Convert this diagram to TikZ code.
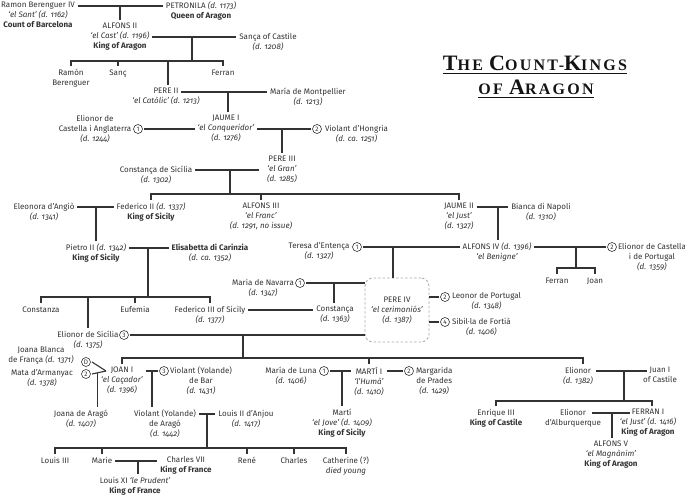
\documentclass[tikz,border=0pt]{standalone}
\usepackage{fontspec}
\setmainfont{Fira Sans}[Numbers=OldStyle]
\newfontfamily\cfont{Fira Sans}
\newfontfamily\ttlfont{Liberation Serif}[LetterSpace=14]
\usetikzlibrary{calc}
\definecolor{tx}{HTML}{333333}
\definecolor{lc}{HTML}{333333}
\definecolor{dashc}{HTML}{AAAAAA}
\newcommand\tA[1]{{\fontsize{22}{24}\selectfont #1}}
\newcommand\tB[1]{{\fontsize{16}{24}\selectfont #1}}
\begin{document}
\begin{tikzpicture}[x=1pt,y=-1pt,
  pn/.style={anchor=north,yshift=7.2pt,align=center,inner sep=0pt,outer sep=3pt,text=tx,
    font=\fontsize{8}{10}\selectfont,execute at begin node=\strut},
  cn/.style={circle,draw=lc,line width=0.6pt,inner sep=0pt,minimum size=9pt,outer sep=1.5pt,
    text=tx,font=\cfont\fontsize{6.5}{7}\selectfont},
  lk/.style={draw=lc,line width=1.1pt},
  ttl/.style={anchor=base,inner sep=0pt,text=black!92,font=\ttlfont\bfseries}]
\path[fill=white] (0,0) rectangle (685,497);
\useasboundingbox (0,0) rectangle (685,497);

% title
\node[ttl] (t1) at (535,71) {\tA{T}\tB{HE }\tA{C}\tB{OUNT-}\tA{K}\tB{INGS}};
\node[ttl] (t2) at (536,95) {\tB{OF }\tA{A}\tB{RAGON}};
\draw[line width=1pt,black!92] ([yshift=-3pt]t1.base west) -- ([yshift=-3pt]t1.base east);
\draw[line width=1pt,black!92] ([yshift=-3pt]t2.base west) -- ([yshift=-3pt]t2.base east);

% generation: Ramon Berenguer IV & Petronila
\node[pn] (ramon) at (38,6) {Ramon Berenguer IV\\\textit{‘el Sant’ (d. 1162)}\\\textbf{Count of Barcelona}};
\node[pn] (petro) at (201,6) {PETRONILA \textit{(d. 1173)}\\\textbf{Queen of Aragon}};
\coordinate (m1) at (120,6);
\draw[lk] (ramon.east |- m1) -- (petro.west |- m1);
\node[pn] (alf2) at (120,27) {ALFONS II\\\textit{‘el Cast’ (d. 1196)}\\\textbf{King of Aragon}};
\draw[lk] (m1) -- (alf2.north);
\node[pn] (sanca) at (268,37) {Sança of Castile\\\textit{(d. 1208)}};
\coordinate (m2) at (192,37);
\draw[lk] (alf2.east |- m2) -- (sanca.west |- m2);
\coordinate (b2) at (192,61);
\draw[lk] (m2) -- (b2);
\node[pn] (ramber) at (71,73) {Ramón\\Berenguer};
\node[pn] (sanc) at (118,73) {Sanç};
\node[pn] (ferran1) at (223,73) {Ferran};
\node[pn] (pere2) at (166,92) {PERE II\\\textit{‘el Catòlic’ (d. 1213)}};
\draw[lk] (ramber.north) -- (ramber.north |- b2) -- (ferran1.north |- b2) -- (ferran1.north);
\draw[lk] (sanc.north) -- (sanc.north |- b2);
\coordinate (t2b) at (168,61);
\draw[lk] (t2b) -- (t2b |- pere2.north);

% Pere II & Maria de Montpellier
\node[pn] (maria) at (308,92) {María de Montpellier\\\textit{(d. 1213)}};
\coordinate (m3) at (228,92);
\coordinate (p2r) at (181,92);
\draw[lk] (p2r) -- (maria.west |- m3);
\node[pn] (jaume1) at (226,119) {JAUME I\\\textit{‘el Conqueridor’}\\\textit{(d. 1276)}};
\draw[lk] (m3) -- (m3 |- jaume1.north);
\node[pn] (elionor1) at (95,119) {Elionor de\\Castella i Anglaterra\\\textit{(d. 1244)}};
\node[cn] (c1) at (138,129) {1};
\draw[lk] (c1.east) -- (jaume1.west |- c1);
\node[cn] (c2) at (317,129) {2};
\node[pn,anchor=north west] (violant1) at (322,129) {Violant d’Hongria\\\textit{(d. ca. 1251)}};
\draw[lk] (jaume1.east |- c2) -- (c2.west);
\coordinate (m4) at (282,129);
\node[pn] (pere3) at (282,160) {PERE III\\\textit{‘el Gran’}\\\textit{(d. 1285)}};
\draw[lk] (m4) -- (m4 |- pere3.north);

% Pere III & Constança
\node[pn] (const1) at (156,170) {Constança de Sicília\\\textit{(d. 1302)}};
\coordinate (m5) at (230,170);
\coordinate (p3l) at (259,170);
\draw[lk] (const1.east |- m5) -- (p3l);
\coordinate (b5) at (230,194);
\draw[lk] (m5) -- (b5);
\node[pn] (fed2) at (151,207) {Federico II \textit{(d. 1337)}\\\textbf{King of Sicily}};
\node[pn] (alf3) at (261,207) {ALFONS III\\\textit{‘el Franc’}\\\textit{(d. 1291, no issue)}};
\node[pn] (jaume2) at (459,207) {JAUME II\\\textit{‘el Just’}\\\textit{(d. 1327)}};
\draw[lk] (fed2.north) -- (fed2.north |- b5) -- (jaume2.north |- b5) -- (jaume2.north);
\draw[lk] (alf3.north) -- (alf3.north |- b5);

% Sicily branch
\node[pn] (eleonora) at (44,207) {Eleonora d’Angiò\\\textit{(d. 1341)}};
\coordinate (m6) at (96,207);
\draw[lk] (eleonora.east |- m6) -- (fed2.west |- m6);
\node[pn] (pietro) at (96,248) {Pietro II \textit{(d. 1342)}\\\textbf{King of Sicily}};
\draw[lk] (m6) -- (m6 |- pietro.north);
\node[pn] (elis) at (210,248) {\textbf{Elisabetta di Carinzia}\\\textit{(d. ca. 1352)}};
\coordinate (m7) at (148,248);
\draw[lk] (pietro.east |- m7) -- (elis.west |- m7);
\coordinate (b7) at (148,297);
\draw[lk] (m7) -- (b7);
\node[pn] (constanza) at (41,310) {Constanza};
\node[pn] (eufemia) at (135,310) {Eufemia};
\node[pn] (fed3) at (210,310) {Federico III of Sicily\\\textit{(d. 1377)}};
\node[pn] (elionor3) at (88,335) {Elionor de Sicília\\\textit{(d. 1375)}};
\draw[lk] (constanza.north) -- (constanza.north |- b7) -- (fed3.north |- b7) -- (fed3.north);
\draw[lk] (eufemia.north) -- (eufemia.north |- b7);
\draw[lk] (elionor3.north |- b7) -- (elionor3.north);
\node[cn] (c6) at (124,335) {3};

% Jaume II & Bianca
\node[pn] (bianca) at (541,207) {Bianca di Napoli\\\textit{(d. 1310)}};
\coordinate (m8) at (498,207);
\draw[lk] (jaume2.east |- m8) -- (bianca.west |- m8);
\node[pn] (alf4) at (497,247) {ALFONS IV \textit{(d. 1396)}\\\textit{‘el Benigne’}};
\draw[lk] (m8) -- (m8 |- alf4.north);
\node[pn] (teresa) at (319,247) {Teresa d’Entença\\\textit{(d. 1327)}};
\node[cn] (c3) at (357,247) {1};
\draw[lk] (c3.east) -- (alf4.west |- c3);
\node[cn] (c4) at (612,247) {2};
\node[pn,anchor=north west] (elionor2) at (615,247) {Elionor de Castella\\i de Portugal\\\textit{(d. 1359)}};
\draw[lk] (alf4.east |- c4) -- (c4.west);
\coordinate (m10) at (576,247);
\coordinate (b10) at (576,268);
\draw[lk] (m10) -- (b10);
\node[pn] (ferran2) at (557,281) {Ferran};
\node[pn] (joan) at (595,281) {Joan};
\draw[lk] (ferran2.north) -- (ferran2.north |- b10) -- (joan.north |- b10) -- (joan.north);

% Pere IV
\node[draw=dashc,dashed,dash pattern=on 2.5pt off 2pt,rounded corners=8pt,line width=0.8pt,
  minimum width=64pt,minimum height=64pt,align=center,inner sep=0pt,text=tx,
  font=\fontsize{8}{10}\selectfont] (pere4) at (397,310) {PERE IV\\\textit{‘el cerimoniós’}\\\textit{(d. 1387)}};
\coordinate (m9) at (393,247);
\draw[lk] (m9) -- (m9 |- pere4.north);
\node[pn] (navarra) at (263,283) {Maria de Navarra\\\textit{(d. 1347)}};
\node[cn] (c5) at (300,283) {1};
\draw[lk] (c5.east) -- (pere4.west |- c5);
\coordinate (m11) at (334,283);
\node[pn] (const2) at (335,310) {Constança\\\textit{(d. 1363)}};
\draw[lk] (m11) -- (m11 |- const2.north);
\coordinate (m12) at (280,310);
\draw[lk] (fed3.east |- m12) -- (const2.west |- m12);
\node[cn] (c7) at (445,297) {2};
\node[pn,anchor=north west] (leonor) at (449,297) {Leonor de Portugal\\\textit{(d. 1348)}};
\draw[lk] (pere4.east |- c7) -- (c7.west);
\node[cn] (c8) at (445,322) {4};
\node[pn,anchor=north west] (sibilla) at (449,322) {Sibil·la de Fortià\\\textit{(d. 1406)}};
\draw[lk] (pere4.east |- c8) -- (c8.west);
\draw[lk] (c6.east) -- (pere4.west |- c6);
\coordinate (m13) at (243,335);
\coordinate (b13) at (243,358);
\draw[lk] (m13) -- (b13);

% children of Pere IV & Elionor de Sicilia
\node[pn] (joan1) at (122,371) {JOAN I\\\textit{‘el Caçador’}\\\textit{(d. 1396)}};
\node[pn] (marti1) at (369,371) {MARTÍ I\\\textit{‘l’Humà’}\\\textit{(d. 1410)}};
\node[pn] (elionor4) at (578,371) {Elionor\\\textit{(d. 1382)}};
\coordinate (t13c) at (583,358);
\draw[lk] (joan1.north) -- (joan1.north |- b13) -- (t13c) -- (t13c |- elionor4.north);
\draw[lk] (marti1.north) -- (marti1.north |- b13);

% Joan I
\node[pn] (joanab) at (41,351) {Joana Blanca\\de França \textit{(d. 1371)}};
\node[cn] (c9) at (86,362) {D};
\node[pn] (mata) at (42,374) {Mata d’Armanyac\\\textit{(d. 1378)}};
\node[cn] (c10) at (86,374) {2};
\coordinate (jn) at (106,371);
\draw[lk] (c9.east) -- (jn);
\draw[lk] (c10.east) -- (jn);
\coordinate (jm) at ($(c10.east)!0.4!(jn)$);
\node[pn] (joanaa) at (81,414) {Joana de Aragó\\\textit{(d. 1407)}};
\draw[lk] (jm) -- (jm |- joanaa.north);
\node[cn] (c11) at (164,371) {3};
\draw[lk] (joan1.east |- c11) -- (c11.west);
\node[pn,anchor=north west] (violantb) at (167,371) {Violant (Yolande)\\de Bar\\\textit{(d. 1431)}};
\coordinate (m14) at (152,371);
\node[pn] (violanta) at (165,414) {Violant (Yolande)\\de Aragó\\\textit{(d. 1442)}};
\draw[lk] (m14) -- (m14 |- violanta.north);
\node[pn] (louis2) at (246,414) {Louis II d’Anjou\\\textit{(d. 1417)}};
\coordinate (m15) at (207,414);
\draw[lk] (violanta.east |- m15) -- (louis2.west |- m15);
\coordinate (b15) at (207,448);
\draw[lk] (m15) -- (b15);
\node[pn] (louis3) at (55,461) {Louis III};
\node[pn] (marie) at (102,461) {Marie};
\node[pn] (charles7) at (186,461) {Charles VII\\\textbf{King of France}};
\node[pn] (rene) at (247,461) {René};
\node[pn] (charles) at (294,461) {Charles};
\node[pn] (cath) at (346,461) {Catherine (?)\\\textit{died young}};
\draw[lk] (louis3.north) -- (louis3.north |- b15) -- (cath.north |- b15) -- (cath.north);
\draw[lk] (marie.north) -- (marie.north |- b15);
\draw[lk] (rene.north) -- (rene.north |- b15);
\draw[lk] (charles.north) -- (charles.north |- b15);
\coordinate (m16) at (138,461);
\draw[lk] (marie.east |- m16) -- (charles7.west |- m16);
\node[pn] (louis11) at (135,481) {Louis XI \textit{‘le Prudent’}\\\textbf{King of France}};
\draw[lk] (m16) -- (m16 |- louis11.north);

% Marti I
\node[pn] (luna) at (291,371) {María de Luna\\\textit{(d. 1406)}};
\node[cn] (c12) at (324,371) {1};
\draw[lk] (c12.east) -- (marti1.west |- c12);
\node[cn] (c13) at (409,371) {2};
\draw[lk] (marti1.east |- c13) -- (c13.west);
\node[pn,anchor=north west] (marg) at (413,371) {Margarida\\de Prades\\\textit{(d. 1429)}};
\coordinate (m17) at (342,371);
\node[pn] (marti2) at (342,413) {Martí\\\textit{‘el Jove’ (d. 1409)}\\\textbf{King of Sicily}};
\draw[lk] (m17) -- (m17 |- marti2.north);

% Elionor & Juan I of Castile
\node[pn] (juan1) at (660,371) {Juan I\\of Castile};
\coordinate (m18) at (624,371);
\coordinate (e4r) at (596,371);
\coordinate (j1l) at (647,371);
\draw[lk] (e4r) -- (j1l);
\coordinate (b18) at (624,401);
\draw[lk] (m18) -- (b18);
\node[pn] (enrique) at (496,413) {Enrique III\\\textbf{King of Castile}};
\node[pn] (ferran3) at (648,413) {FERRAN I\\\textit{‘el Just’ (d. 1416)}\\\textbf{King of Aragon}};
\coordinate (t18b) at (652,401);
\draw[lk] (enrique.north) -- (enrique.north |- b18) -- (t18b) -- (t18b |- ferran3.north);
\node[pn] (elionor5) at (573,413) {Elionor\\d’Alburquerque};
\coordinate (m19) at (612,413);
\coordinate (e5r) at (592,413);
\coordinate (f3l) at (630,413);
\draw[lk] (e5r) -- (f3l);
\node[pn] (alf5) at (611,445) {ALFONS V\\\textit{‘el Magnànim’}\\\textbf{King of Aragon}};
\draw[lk] (m19) -- (m19 |- alf5.north);
\end{tikzpicture}
\end{document}
